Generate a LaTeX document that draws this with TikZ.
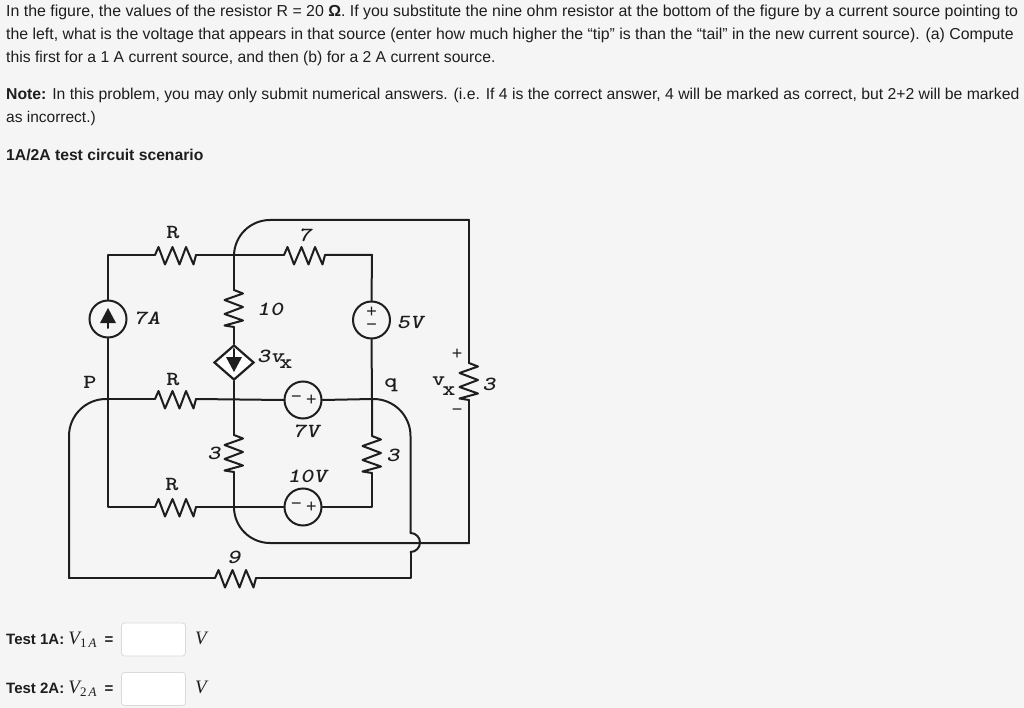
\documentclass[tikz,border=0pt]{standalone}
\usepackage{graphicx}
\usepackage{fontspec}
\usetikzlibrary{shapes.geometric}
\setmainfont{Liberation Sans}
\newfontfamily\mathsfont{Liberation Serif}
\definecolor{pagebg}{HTML}{F5F5F5}
\definecolor{inkc}{HTML}{1E1E1E}
\definecolor{boxc}{HTML}{DADADA}
\newcommand\wide[1]{\scalebox{1.25}[1]{#1}}
\newcommand\fs[1]{\fontsize{#1}{18}\selectfont}
\tikzset{
  wire/.style={draw=inkc,line width=2pt,line cap=round,line join=round},
  srcc/.style={circle,draw=inkc,fill=pagebg,line width=2pt,minimum size=37pt,inner sep=0pt},
  srcd/.style={diamond,draw=inkc,fill=white,line width=2.2pt,minimum width=40pt,minimum height=35pt,inner sep=0pt},
  para/.style={anchor=base west,inner sep=0pt,text=inkc},
  ansl/.style={anchor=base west,inner sep=0pt,font=\fontsize{15}{18}\selectfont,text=inkc},
  lab/.style={inner sep=0pt,text=inkc,font=\ttfamily\bfseries\fontsize{20}{20}\selectfont},
  labi/.style={inner sep=0pt,text=inkc,font=\ttfamily\bfseries\itshape\fontsize{20}{20}\selectfont},
  sign/.style={inner sep=0pt,text=inkc,font=\fontsize{18}{18}\selectfont},
  ansbox/.style={draw=boxc,fill=white,rounded corners=3pt,line width=0.8pt,minimum width=64pt,minimum height=33pt,inner sep=0pt},
  hres/.pic={
    \coordinate (-a) at (0,0);
    \coordinate (-b) at (41,0);
    \draw[wire] (-a) -- (3.5,-8) -- (10,9.5) -- (17.5,-8) -- (24.5,9.5) -- (31,-8) -- (38.5,9.5) -- (-b);
  },
  vres/.pic={
    \coordinate (-a) at (0,0);
    \coordinate (-b) at (0,37);
    \draw[wire] (-a) -- (9,3.5) -- (-9.5,10) -- (9,17) -- (-9.5,24) -- (9,30.5) -- (-9.5,35.5) -- (-b);
  }
}
\begin{document}
\begin{tikzpicture}[x=1pt,y=-1pt]
\useasboundingbox (0,0) rectangle (1024,708);
\fill[pagebg] (0,0) rectangle (1024,708);

\node[para,font=\fs{15.9}] (ta) at (6,16.5) {In the figure, the values of the resistor R = 20 \textbf{Ω}. If you substitute the nine ohm resistor at the bottom of the figure by a current source pointing to};
\node[para,font=\fs{15.85}] (tb) at (6,39.5) {the left, what is the voltage that appears in that source (enter how much higher the “tip” is than the “tail” in the new current source). (a) Compute};
\node[para,font=\fs{15.72}] (tc) at (6,62.5) {this first for a 1 A current source, and then (b) for a 2 A current source.};
\node[para,font=\fs{15.75}] (td) at (6,99.5) {\textbf{Note:} In this problem, you may only submit numerical answers. (i.e. If 4 is the correct answer, 4 will be marked as correct, but 2+2 will be marked};
\node[para,font=\fs{15.5}] (te) at (6,122.5) {as incorrect.)};
\node[para,font=\fs{15.7}] (tf) at (6,160.5) {\textbf{1A/2A test circuit scenario}};

% junctions
\coordinate (ptop) at (108,255);
\coordinate (pmid) at (108,399);
\coordinate (pbot) at (108,507);
\coordinate (jtop) at (234,255);
\coordinate (jbot) at (234,507);
\coordinate (qtop) at (372,255);
\coordinate (qmid) at (372,399);
\coordinate (qbot) at (372,507);
\coordinate (rtop) at (469,220);
\coordinate (rbot) at (469,543);
\coordinate (lbot) at (69,578);
\coordinate (lrgt) at (410.5,578);
\coordinate (humpa) at (410.5,552);
\coordinate (humpb) at (410.5,533);

% sources
\node[srcc] (srcA) at (108,319) {};
\node[srcd] (srcB) at (234,362.5) {};
\node[srcc] (srcC) at (371.5,320) {};
\node[srcc] (srcD) at (303,400) {};
\node[srcc] (srcE) at (303,507) {};

\fill[inkc] (108,308) -- (116,323) -- (100,323) -- cycle;
\draw[wire] (108,320) -- (108,328);
\fill[inkc] (234,372) -- (226,357) -- (242,357) -- cycle;
\draw[wire] (234,349) -- (234,360);

\node[sign] (sga) at (371.5,312) {+};
\node[sign] (sgb) at (371.5,327) {−};
\node[sign] (sgc) at (296.5,399.5) {−};
\node[sign] (sgd) at (311.5,400) {+};
\node[sign] (sge) at (296.5,506.5) {−};
\node[sign] (sgf) at (311.5,507) {+};

% resistors
\pic (rtl) at (155,255) {hres};
\pic (rtr) at (284,255) {hres};
\pic (rml) at (155,399) {hres};
\pic (rbl) at (155,507) {hres};
\pic (rlw) at (215,578) {hres};
\pic (rten) at (234,290) {vres};
\pic (rjl) at (234,435) {vres};
\pic (rqr) at (372,436) {vres};
\pic (rvx) at (469,363) {vres};

% wires
\draw[wire] (srcA.north) -- (ptop) -- (rtl-a);
\draw[wire] (rtl-b) -- (jtop) -- (rtr-a);
\draw[wire] (rtr-b) -- (qtop) -- (srcC.north);
\draw[wire] (srcC.south) -- (qmid) -- (rqr-a);
\draw[wire] (rqr-b) -- (qbot) -- (srcE.east);
\draw[wire] (srcE.west) -- (rbl-b);
\draw[wire] (rbl-a) -- (pbot) -- (srcA.south);
\draw[wire] (jtop) -- (rten-a);
\draw[wire] (rten-b) -- (srcB.north);
\draw[wire] (srcB.south) -- (rjl-a);
\draw[wire] (rjl-b) -- (jbot);
\draw[wire] (pmid) -- (rml-a);
\draw[wire] (rml-b) -- (srcD.west);
\draw[wire] (srcD.east) -- (qmid);
\draw[wire,rounded corners=36pt] (jtop) |- (rtop);
\draw[wire] (rtop) -- (rvx-a);
\draw[wire] (rvx-b) -- (rbot);
\draw[wire,rounded corners=36pt] (rbot) -| (jbot);
\draw[wire,rounded corners=37pt] (pmid) -| (lbot);
\draw[wire] (lbot) -- (rlw-a);
\draw[wire] (rlw-b) -- (lrgt) -- (humpa);
\draw[wire] (humpa) arc[start angle=-90,end angle=90,radius=9.5pt];
\draw[wire,rounded corners=37pt] (humpb) |- (qmid);

% labels
\node[lab] (lra) at (173,233) {\wide{R}};
\node[lab] (lrb) at (173,379) {\wide{R}};
\node[lab] (lrc) at (172,484) {\wide{R}};
\node[lab] (lp) at (90,382) {\wide{P}};
\node[lab] (lq) at (391,385) {\wide{q}};
\node[labi] (lsv) at (305,235) {\wide{7}};
\node[labi] (lten) at (270,309) {\wide{10}};
\node[labi] (lsa) at (147,318) {\wide{7A}};
\node[labi] (lfv) at (410,322) {\wide{5V}};
\node[labi] (lsev) at (306,431) {\wide{7V}};
\node[labi] (ltv) at (307,476) {\wide{10V}};
\node[labi] (lnn) at (234,557) {\wide{9}};
\node[labi] (lth) at (214,453) {\wide{3}};
\node[labi] (lti) at (393,455) {\wide{3}};
\node[labi] (ltj) at (489,384) {\wide{3}};
\node[labi,anchor=base west] (lcs) at (257,362) {\wide{3v}\hspace{-4pt}\raisebox{-6pt}{\wide{\upshape x}}};
\node[lab,anchor=base west] (lvx) at (432,385) {\wide{v}\hspace{-3pt}\raisebox{-10pt}{\wide{x}}};
\node[sign] (lvp) at (457,354) {+};
\node[sign] (lvm) at (457,412) {−};

% answers
\node[ansl] (qa) at (6,644) {\textbf{Test 1A:} {\mathsfont\fontsize{19}{19}\selectfont\itshape V\raisebox{-3pt}{\fontsize{13}{13}\selectfont\upshape 1\,\itshape A}}\hspace{8pt}\textbf{=}};
\node[ansl] (qb) at (6,693) {\textbf{Test 2A:} {\mathsfont\fontsize{19}{19}\selectfont\itshape V\raisebox{-3pt}{\fontsize{13}{13}\selectfont\upshape 2\,\itshape A}}\hspace{8pt}\textbf{=}};
\node[ansbox] (boxa) at (153.5,639.5) {};
\node[ansbox] (boxb) at (153.5,689) {};
\node[ansl,anchor=base] (ua) at (201,644) {\mathsfont\fontsize{19}{19}\selectfont\itshape V};
\node[ansl,anchor=base] (ub) at (201,693) {\mathsfont\fontsize{19}{19}\selectfont\itshape V};
\end{tikzpicture}
\end{document}
